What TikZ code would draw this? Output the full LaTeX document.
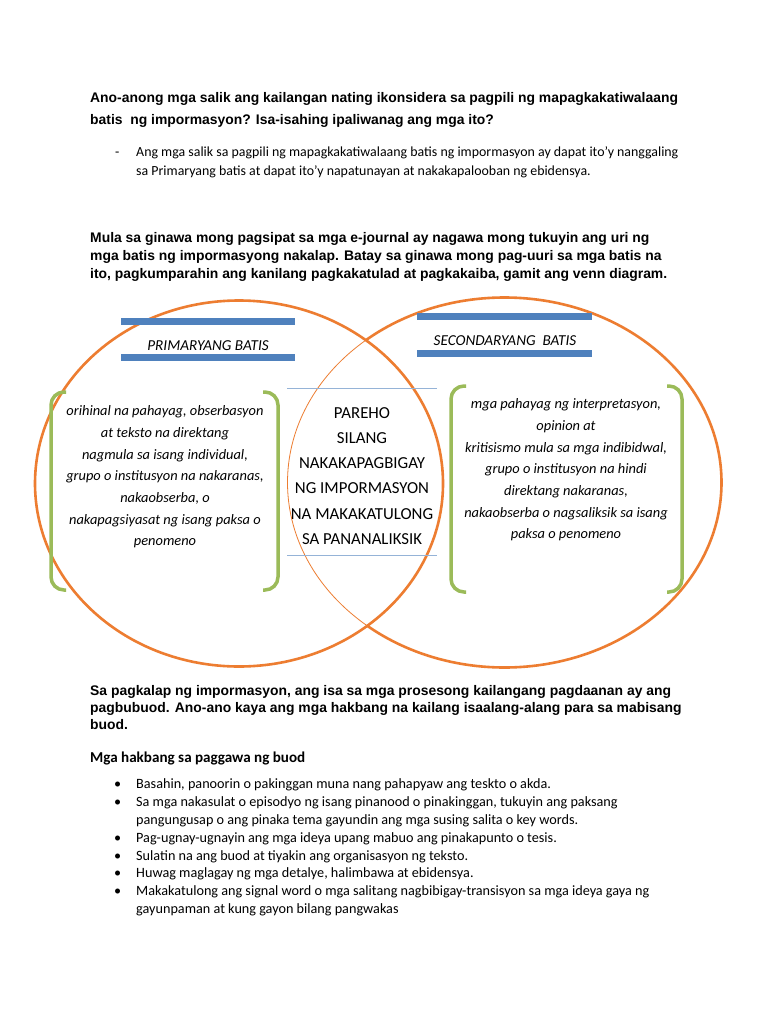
\documentclass[tikz,border=0pt]{standalone}
\usepackage{fontspec}
\setmainfont{Carlito}
\newfontfamily\qfont{Liberation Sans}
\definecolor{vorange}{HTML}{ED7D31}
\definecolor{vblue}{HTML}{4F81BD}
\definecolor{vlblue}{HTML}{95B3D7}
\definecolor{vgreen}{HTML}{9BBB59}
\begin{document}
\begin{tikzpicture}[x=1pt,y=-1pt,
  qtext/.style={anchor=base west,inner sep=0pt,font=\qfont\bfseries\fontsize{13.9}{15}\selectfont},
  btext/.style={anchor=base west,inner sep=0pt,font=\fontsize{14.2}{15}\selectfont},
  dtext/.style={anchor=base west,inner sep=0pt,font=\fontsize{13.9}{15}\selectfont},
  bar/.style={fill=vblue,draw=none},
  brack/.style={draw=vgreen,line width=3.5pt,rounded corners=13pt},
  vtext/.style={align=center,inner sep=0pt,font=\fontsize{14.4}{21.7}\selectfont\itshape},
  ctext/.style={align=center,inner sep=0pt,font=\fontsize{16.8}{25.2}\selectfont},
  ltext/.style={anchor=base,inner sep=0pt,font=\fontsize{15.2}{15}\selectfont\itshape}]
\useasboundingbox[fill=white] (0,0) rectangle (768,1024);

% question 1
\node[qtext] (q1a) at (90,103) {Ano-anong mga salik ang kailangan nating ikonsidera sa pagpili ng mapagkakatiwalaang};
\node[qtext] (q1b) at (90,125) {batis\ \ ng impormasyon? Isa-isahing ipaliwanag ang mga ito?};
\node[dtext] (d1) at (115,157) {-};
\node[dtext] (a1a) at (136,157) {Ang mga salik sa pagpili ng mapagkakatiwalaang batis ng impormasyon ay dapat ito’y nanggaling};
\node[dtext] (a1b) at (136,176) {sa Primaryang batis at dapat ito’y napatunayan at nakakapalooban ng ebidensya.};

% question 2
\node[qtext] (q2a) at (90,242) {Mula sa ginawa mong pagsipat sa mga e-journal ay nagawa mong tukuyin ang uri ng};
\node[qtext] (q2b) at (90,260) {mga batis ng impormasyong nakalap. Batay sa ginawa mong pag-uuri sa mga batis na};
\node[qtext] (q2c) at (90,278) {ito, pagkumparahin ang kanilang pagkakatulad at pagkakaiba, gamit ang venn diagram.};

% venn
\draw[vorange,line width=2.6pt] (504.5,482.5) ellipse [x radius=217, y radius=185];
\fill[white] (239,483.5) ellipse [x radius=204, y radius=183];
\begin{scope}
\clip (239,483.5) ellipse [x radius=204, y radius=183];
\draw[vorange,line width=0.8pt] (504.5,482.5) ellipse [x radius=217, y radius=185];
\end{scope}
\draw[vorange,line width=2.6pt] (239,483.5) ellipse [x radius=204, y radius=183];

\draw[vlblue,line width=0.8pt] (287,388) -- (437,388);
\draw[vlblue,line width=0.8pt] (287,555) -- (437,555);

\fill[bar] (121,318) rectangle (295,325);
\fill[bar] (121,354) rectangle (295,361);
\node[ltext] (pb) at (208,350) {PRIMARYANG BATIS};
\fill[bar] (417,313) rectangle (592,320);
\fill[bar] (417,350) rectangle (592,357);
\node[ltext] (sb) at (505,345) {SECONDARYANG\ \ BATIS};

\draw[brack] (66,392) -- (51,392) -- (51,590) -- (66,590);
\draw[brack] (263,392) -- (278,392) -- (278,590) -- (263,590);
\draw[brack] (466,386) -- (451,386) -- (451,592) -- (466,592);
\draw[brack] (667,386) -- (682,386) -- (682,592) -- (667,592);

\node[vtext] (lt) at (165,477) {orihinal na pahayag, obserbasyon\\at teksto na direktang\\nagmula sa isang individual,\\grupo o institusyon na nakaranas,\\nakaobserba, o\\nakapagsiyasat ng isang paksa o\\penomeno};
\node[ctext] (mt) at (362,476) {PAREHO\\SILANG\\NAKAKAPAGBIGAY\\NG IMPORMASYON\\NA MAKAKATULONG\\SA PANANALIKSIK};
\node[vtext] (rt) at (566,470) {mga pahayag ng interpretasyon,\\opinion at\\kritisismo mula sa mga indibidwal,\\grupo o institusyon na hindi\\direktang nakaranas,\\nakaobserba o nagsaliksik sa isang\\paksa o penomeno};

% question 3
\node[qtext] (q3a) at (90,695) {Sa pagkalap ng impormasyon, ang isa sa mga prosesong kailangang pagdaanan ay ang};
\node[qtext] (q3b) at (90,712) {pagbubuod. Ano-ano kaya ang mga hakbang na kailang isaalang-alang para sa mabisang};
\node[qtext] (q3c) at (90,729) {buod.};
\node[btext,font=\bfseries\fontsize{15.1}{15}\selectfont] (hd) at (90,762) {Mga hakbang sa paggawa ng buod};

\foreach \y/\nm in {788/b1,806/b2,842/b3,860/b4,877/b5,895/b6}
  \node[btext] (\nm) at (114,\y) {•};
\node[btext] (t1) at (136,788) {Basahin, panoorin o pakinggan muna nang pahapyaw ang teskto o akda.};
\node[btext] (t2) at (136,806) {Sa mga nakasulat o episodyo ng isang pinanood o pinakinggan, tukuyin ang paksang};
\node[btext] (t2b) at (136,824) {pangungusap o ang pinaka tema gayundin ang mga susing salita o key words.};
\node[btext] (t3) at (136,842) {Pag-ugnay-ugnayin ang mga ideya upang mabuo ang pinakapunto o tesis.};
\node[btext] (t4) at (136,860) {Sulatin na ang buod at tiyakin ang organisasyon ng teksto.};
\node[btext] (t5) at (136,877) {Huwag maglagay ng mga detalye, halimbawa at ebidensya.};
\node[btext] (t6) at (136,895) {Makakatulong ang signal word o mga salitang nagbibigay-transisyon sa mga ideya gaya ng};
\node[btext] (t6b) at (136,913) {gayunpaman at kung gayon bilang pangwakas};
\end{tikzpicture}
\end{document}
